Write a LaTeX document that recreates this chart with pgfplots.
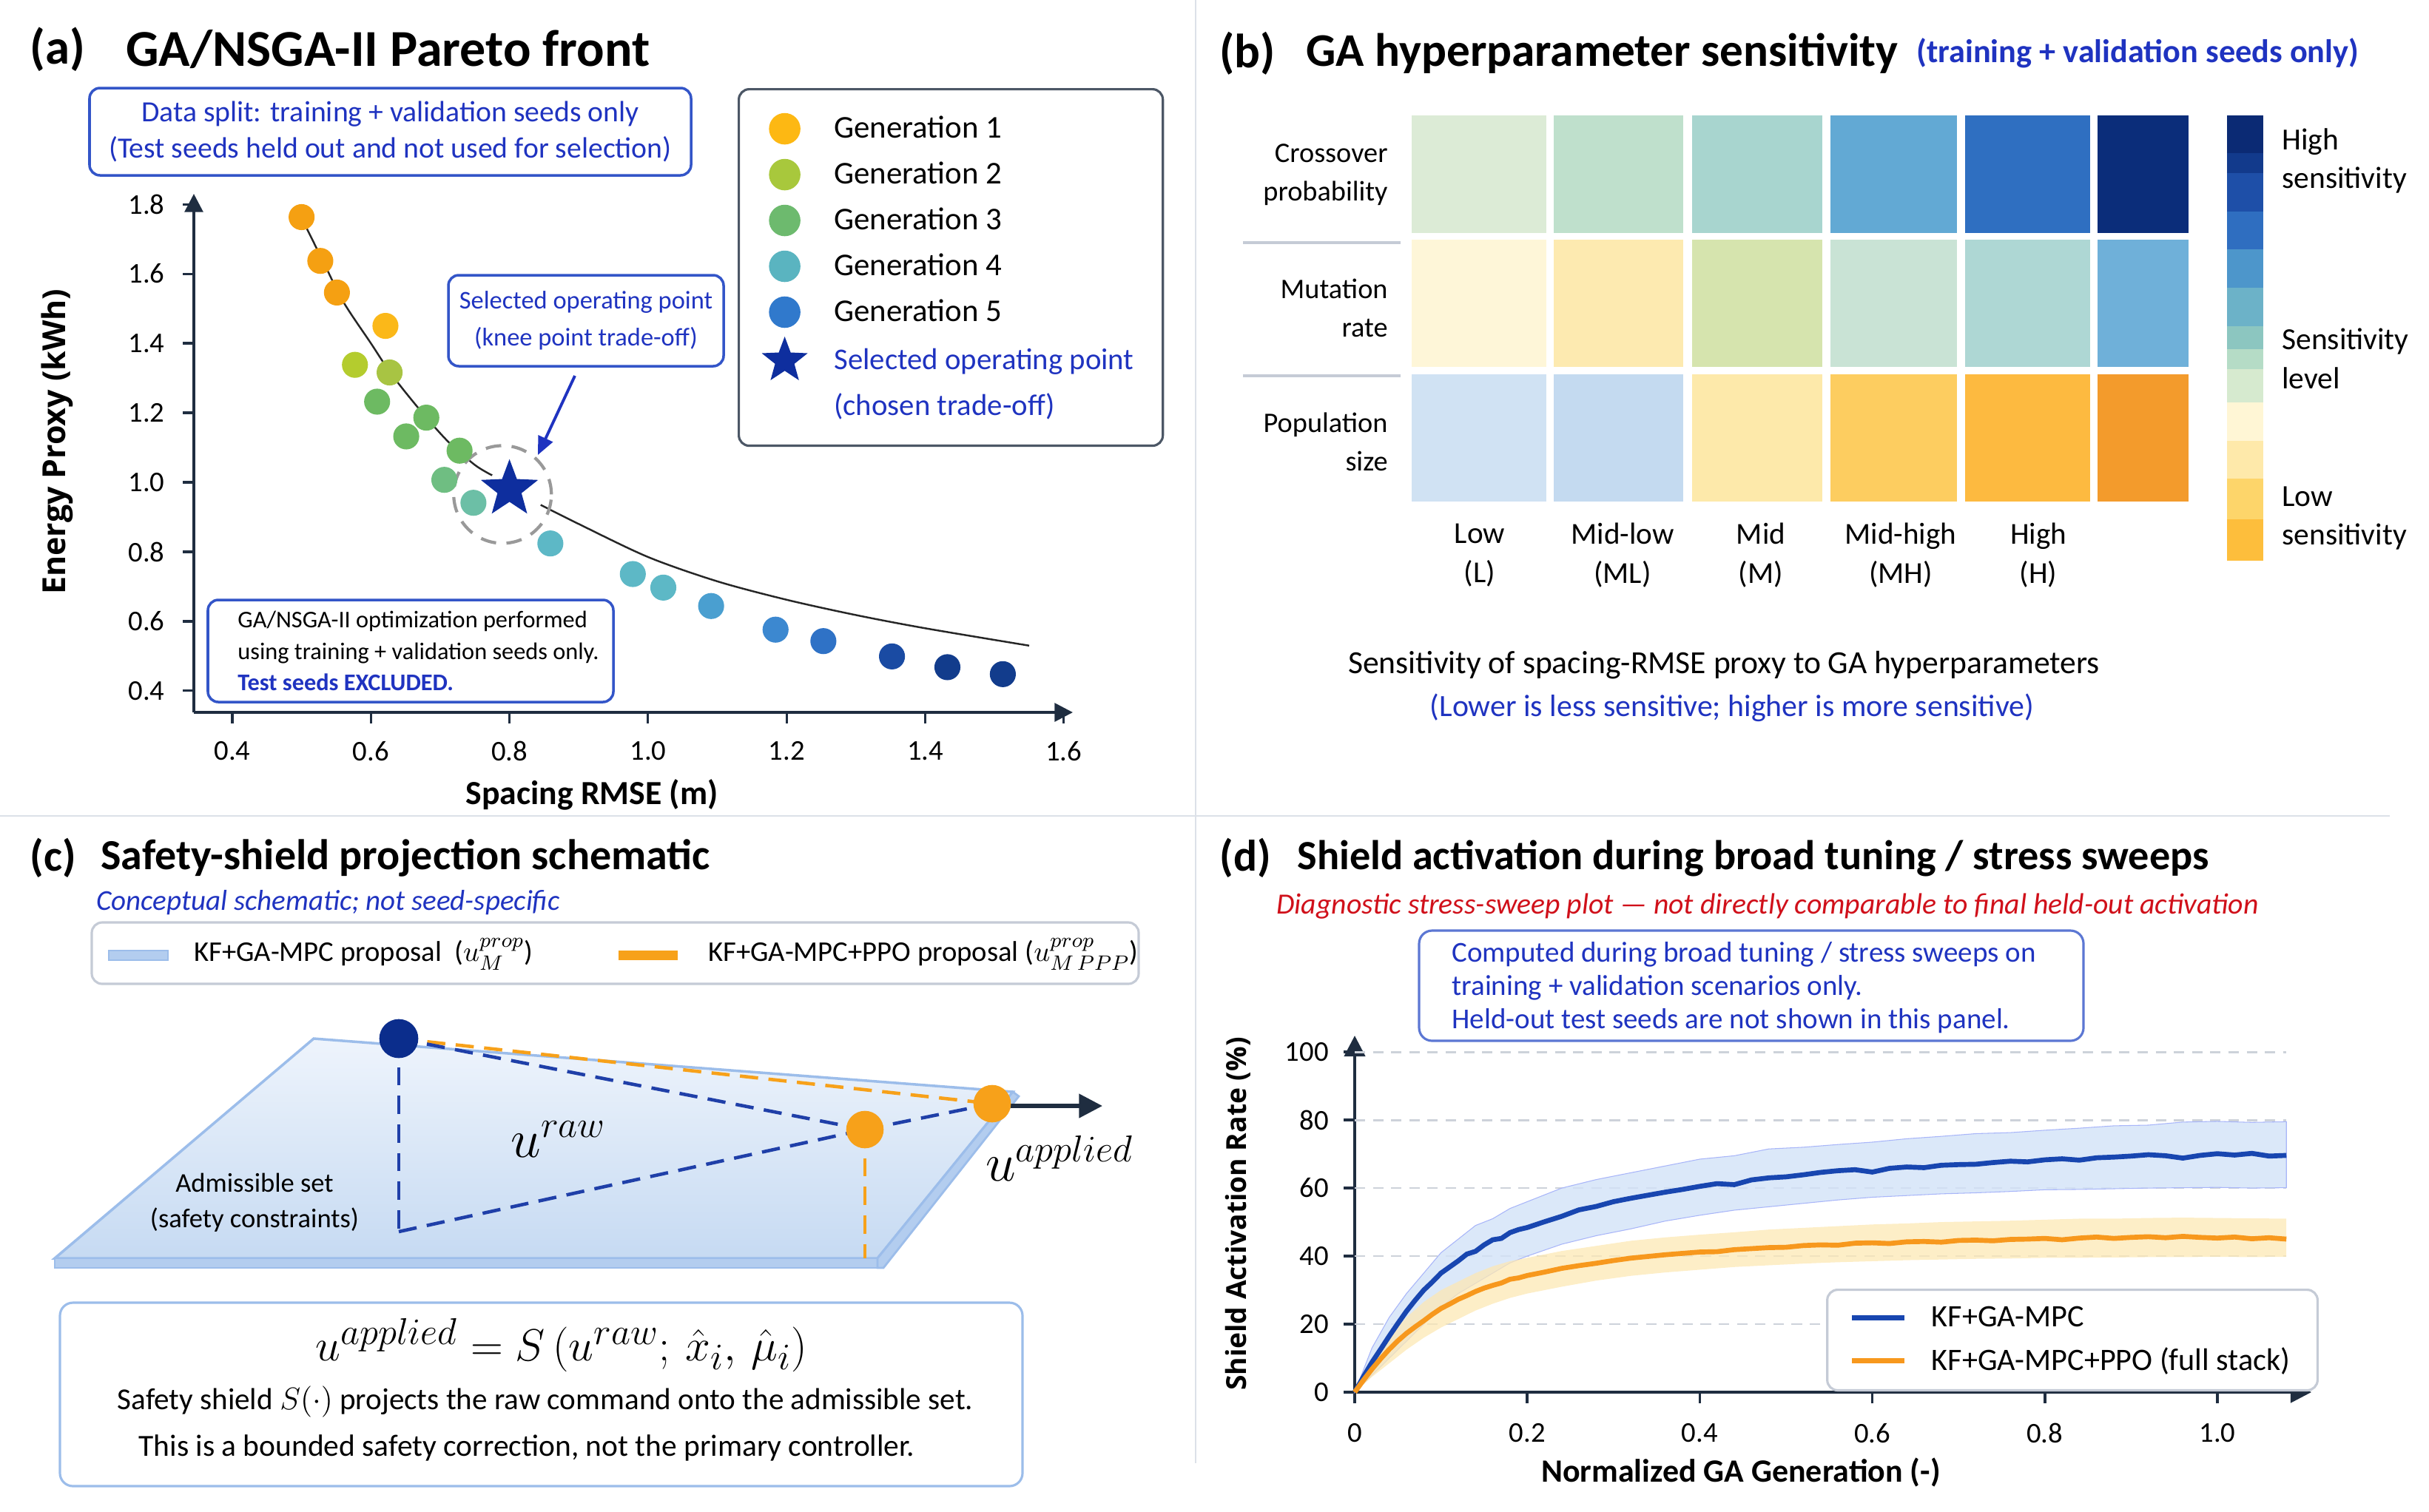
\documentclass[border=0pt]{standalone}
\usepackage{fontspec}
\setmainfont{Carlito}
\newfontfamily\os{Open Sans}
\usepackage{pgfplots}
\pgfplotsset{compat=1.18}
\usetikzlibrary{arrows.meta}
\newcommand{\fs}[2]{\fontsize{#1}{#2}\selectfont}
\definecolor{axdark}{HTML}{1F2D40}
\definecolor{tblue}{HTML}{1F33C0}
\definecolor{boxblue}{HTML}{3355C8}
\definecolor{divgray}{HTML}{DCE1E8}
\definecolor{lgray}{HTML}{C5CBD6}
\definecolor{tred}{HTML}{D0101A}
% panel a points
\definecolor{o1}{HTML}{F5A012}\definecolor{o2}{HTML}{FBB819}
\definecolor{y1}{HTML}{B4CC2E}\definecolor{y2}{HTML}{A8C443}
\definecolor{gr1}{HTML}{6DBA62}\definecolor{gr3}{HTML}{6FBE82}
\definecolor{tl1}{HTML}{6CBFA6}\definecolor{tl2}{HTML}{5DB8C6}\definecolor{tl3}{HTML}{4A9FD0}
\definecolor{bl1}{HTML}{3C88D0}\definecolor{bl2}{HTML}{2F72C6}
\definecolor{nv1}{HTML}{1A4BA3}\definecolor{nv2}{HTML}{123C8C}
\definecolor{lg1}{HTML}{FDB813}\definecolor{lg2}{HTML}{A8C83C}\definecolor{lg3}{HTML}{6DBA6E}
\definecolor{lg4}{HTML}{5AB4C0}\definecolor{lg5}{HTML}{3079CC}
\definecolor{starblue}{HTML}{0E2E9E}
% heatmap
\definecolor{h11}{HTML}{DCEBD6}\definecolor{h12}{HTML}{BFE0CC}\definecolor{h13}{HTML}{A8D5CF}
\definecolor{h14}{HTML}{62A9D4}\definecolor{h15}{HTML}{2F6FC1}\definecolor{h16}{HTML}{0B2D7A}
\definecolor{h21}{HTML}{FEF6D8}\definecolor{h22}{HTML}{FDEAB0}\definecolor{h23}{HTML}{D6E4AE}
\definecolor{h24}{HTML}{C9E3D5}\definecolor{h25}{HTML}{AED7D4}\definecolor{h26}{HTML}{6FB0D9}
\definecolor{h31}{HTML}{D0E2F3}\definecolor{h32}{HTML}{C4DAF0}\definecolor{h33}{HTML}{FDE9AA}
\definecolor{h34}{HTML}{FDCD60}\definecolor{h35}{HTML}{FDBA40}\definecolor{h36}{HTML}{F39B2C}
% colorbar
\definecolor{cb1}{HTML}{0B2A74}\definecolor{cb2}{HTML}{123A8C}\definecolor{cb3}{HTML}{1E4FA8}
\definecolor{cb4}{HTML}{2F6EC0}\definecolor{cb5}{HTML}{4D96CB}\definecolor{cb6}{HTML}{6CB2C8}
\definecolor{cb7}{HTML}{8CC6C0}\definecolor{cb8}{HTML}{B5DCC6}\definecolor{cb9}{HTML}{D6EACF}
\definecolor{cb10}{HTML}{FFF6D5}\definecolor{cb11}{HTML}{FEE9AA}\definecolor{cb12}{HTML}{FDD56A}
\definecolor{cb13}{HTML}{FDBE3C}
% panel c
\definecolor{planeTop}{HTML}{EEF4FC}\definecolor{planeBot}{HTML}{C6DAF2}
\definecolor{planeEdge}{HTML}{9CBDEA}\definecolor{slab}{HTML}{B3CDEF}
\definecolor{dblue}{HTML}{1F3FA8}\definecolor{dorange}{HTML}{F7A11A}\definecolor{navy}{HTML}{0B2D8C}
% panel d
\definecolor{mblue}{HTML}{1846B0}\definecolor{morange}{HTML}{F7981D}
\definecolor{bandblue}{HTML}{D2E2F7}\definecolor{bandorange}{HTML}{FDE8B4}
\definecolor{gridgray}{HTML}{CDD2DA}

\pgfdeclareplotmark{fstar}{%
 \pgfpathmoveto{\pgfpointpolar{90}{\pgfplotmarksize}}%
 \pgfpathlineto{\pgfpointpolar{126}{0.42\pgfplotmarksize}}%
 \pgfpathlineto{\pgfpointpolar{162}{\pgfplotmarksize}}%
 \pgfpathlineto{\pgfpointpolar{198}{0.42\pgfplotmarksize}}%
 \pgfpathlineto{\pgfpointpolar{234}{\pgfplotmarksize}}%
 \pgfpathlineto{\pgfpointpolar{270}{0.42\pgfplotmarksize}}%
 \pgfpathlineto{\pgfpointpolar{306}{\pgfplotmarksize}}%
 \pgfpathlineto{\pgfpointpolar{342}{0.42\pgfplotmarksize}}%
 \pgfpathlineto{\pgfpointpolar{18}{\pgfplotmarksize}}%
 \pgfpathlineto{\pgfpointpolar{54}{0.42\pgfplotmarksize}}%
 \pgfpathclose\pgfusepathqfillstroke}

\newcommand{\rect}[5]{\addplot[draw=none, fill=#5, forget plot] coordinates {(#1,-#2) (#3,-#2) (#3,-#4) (#1,-#4)} -- cycle;}

\begin{document}
\begin{tikzpicture}
\useasboundingbox (0,0) rectangle (32.83,-20.43);

%================ canvas axis (heatmap, colorbar, schematic) ================
\begin{axis}[at={(0cm,-20.43cm)}, anchor=south west, scale only axis, width=32.83cm, height=20.43cm,
  xmin=0, xmax=3283, ymin=-2043, ymax=0, hide axis, clip=false]
% dividers
\addplot[draw=divgray, line width=0.8pt, forget plot] coordinates {(1616,0) (1616,-1978)};
\addplot[draw=divgray, line width=0.8pt, forget plot] coordinates {(0,-1103) (3230,-1103)};
% heatmap cells
\rect{1908}{156}{2090}{315}{h11}\rect{2100}{156}{2275}{315}{h12}\rect{2287}{156}{2463}{315}{h13}
\rect{2474}{156}{2645}{315}{h14}\rect{2656}{156}{2825}{315}{h15}\rect{2835}{156}{2958}{315}{h16}
\rect{1908}{324}{2090}{496}{h21}\rect{2100}{324}{2275}{496}{h22}\rect{2287}{324}{2463}{496}{h23}
\rect{2474}{324}{2645}{496}{h24}\rect{2656}{324}{2825}{496}{h25}\rect{2835}{324}{2958}{496}{h26}
\rect{1908}{506}{2090}{678}{h31}\rect{2100}{506}{2275}{678}{h32}\rect{2287}{506}{2463}{678}{h33}
\rect{2474}{506}{2645}{678}{h34}\rect{2656}{506}{2825}{678}{h35}\rect{2835}{506}{2958}{678}{h36}
% row separators
\addplot[draw=lgray, line width=1pt, forget plot] coordinates {(1680,-328) (1893,-328)};
\addplot[draw=lgray, line width=1pt, forget plot] coordinates {(1680,-508) (1893,-508)};
% colorbar
\rect{3010}{156}{3059}{208}{cb1}
\rect{3010}{207}{3059}{235}{cb2}
\rect{3010}{234}{3059}{287}{cb3}
\rect{3010}{286}{3059}{338}{cb4}
\rect{3010}{337}{3059}{390}{cb5}
\rect{3010}{389}{3059}{442}{cb6}
\rect{3010}{441}{3059}{473}{cb7}
\rect{3010}{472}{3059}{500}{cb8}
\rect{3010}{499}{3059}{545}{cb9}
\rect{3010}{544}{3059}{597}{cb10}
\rect{3010}{596}{3059}{648}{cb11}
\rect{3010}{647}{3059}{703}{cb12}
\rect{3010}{702}{3059}{758}{cb13}
% schematic plane
\addplot[draw=planeEdge, line width=1pt, top color=planeTop, bottom color=planeBot, forget plot]
  coordinates {(424,-1404) (1369,-1476) (1186,-1701) (74,-1701)} -- cycle;
\addplot[draw=planeEdge, line width=0.8pt, fill=slab, forget plot]
  coordinates {(74,-1701) (1186,-1701) (1186,-1714) (74,-1714)} -- cycle;
\addplot[draw=planeEdge, line width=0.8pt, fill=slab, forget plot]
  coordinates {(1186,-1701) (1369,-1476) (1377,-1482) (1194,-1714) (1186,-1714)} -- cycle;
% dashed projections
\addplot[dorange, line width=1.3pt, dash pattern=on 7pt off 4pt, forget plot] coordinates {(539,-1404) (1341,-1492)};
\addplot[dorange, line width=1.3pt, dash pattern=on 7pt off 4pt, forget plot] coordinates {(1169,-1527) (1169,-1701)};
\addplot[dblue, line width=1.3pt, dash pattern=on 7pt off 4pt, forget plot] coordinates {(539,-1404) (1169,-1527)};
\addplot[dblue, line width=1.3pt, dash pattern=on 7pt off 4pt, forget plot] coordinates {(539,-1404) (539,-1665)};
\addplot[dblue, line width=1.3pt, dash pattern=on 7pt off 4pt, forget plot] coordinates {(539,-1665) (1169,-1527)};
\addplot[dblue, line width=1.3pt, dash pattern=on 7pt off 4pt, forget plot] coordinates {(1169,-1527) (1341,-1492)};
\addplot[axdark, line width=1.6pt, -{Triangle[width=9pt,length=9pt]}, forget plot] coordinates {(1366,-1495) (1490,-1495)};
\addplot[only marks, mark=*, mark size=7.3pt, color=navy, forget plot] coordinates {(539,-1404)};
\addplot[only marks, mark=*, mark size=7pt, color=dorange, forget plot] coordinates {(1169,-1527) (1341,-1492)};
\end{axis}

%================ panel (a) ================
\begin{axis}[at={(2.62cm,-9.63cm)}, anchor=south west, scale only axis, width=11.88cm, height=7.01cm,
  xmin=0.3445, xmax=1.613, ymin=0.338, ymax=1.83,
  axis lines=left,
  x axis line style={draw=axdark, line width=1.1pt, -{Triangle[width=7pt,length=7pt]}},
  y axis line style={draw=axdark, line width=1.1pt, -{Triangle[width=7pt,length=7pt]}},
  tick style={draw=axdark, line width=0.9pt}, major tick length=1.5mm, tick align=outside,
  xtick={0.4,0.6,0.8,1.0,1.2,1.4,1.6}, ytick={0.4,0.6,0.8,1.0,1.2,1.4,1.6,1.8},
  xticklabels={0.4,0.6,0.8,1.0,1.2,1.4,1.6}, yticklabels={0.4,0.6,0.8,1.0,1.2,1.4,1.6,1.8},
  ticklabel style={font=\fs{11}{13}, text=black},
  xticklabel style={yshift=-1.2mm}, yticklabel style={xshift=-1.2mm},
  clip=false,
  legend style={at={(0.6187,1.204)}, anchor=north west, draw=axdark!80, line width=0.9pt,
    rounded corners=4pt, fill=white, inner xsep=3.2mm, inner ysep=2.9mm, row sep=1.3mm,
    font=\fs{12.2}{14}, /tikz/every odd column/.append style={column sep=3.3mm}},
  legend cell align=left]
\addplot[smooth, color=black!85, line width=0.7pt, forget plot] coordinates {
 (0.50,1.76) (0.53,1.64) (0.56,1.52) (0.60,1.40) (0.63,1.31) (0.67,1.21) (0.71,1.12) (0.75,1.05) (0.775,1.02)};
\addplot[smooth, color=black!85, line width=0.7pt, forget plot] coordinates {
 (0.845,0.935) (0.90,0.88) (1.00,0.785) (1.10,0.715) (1.20,0.662) (1.30,0.618) (1.40,0.580) (1.55,0.530)};
\addplot[only marks, mark=*, mark size=4.8pt, color=o1, forget plot] coordinates {(0.500,1.763) (0.527,1.637) (0.551,1.546)};
\addplot[only marks, mark=*, mark size=4.8pt, color=o2, forget plot] coordinates {(0.621,1.450)};
\addplot[only marks, mark=*, mark size=4.8pt, color=y1, forget plot] coordinates {(0.577,1.338)};
\addplot[only marks, mark=*, mark size=4.8pt, color=y2, forget plot] coordinates {(0.627,1.316)};
\addplot[only marks, mark=*, mark size=4.8pt, color=gr1, forget plot] coordinates {(0.609,1.232) (0.680,1.186) (0.651,1.132) (0.728,1.091)};
\addplot[only marks, mark=*, mark size=4.8pt, color=gr3, forget plot] coordinates {(0.706,1.007)};
\addplot[only marks, mark=*, mark size=4.8pt, color=tl1, forget plot] coordinates {(0.748,0.941)};
\addplot[only marks, mark=*, mark size=4.8pt, color=tl2, forget plot] coordinates {(0.859,0.824) (0.978,0.736) (1.022,0.697)};
\addplot[only marks, mark=*, mark size=4.8pt, color=tl3, forget plot] coordinates {(1.091,0.644)};
\addplot[only marks, mark=*, mark size=4.8pt, color=bl1, forget plot] coordinates {(1.184,0.576)};
\addplot[only marks, mark=*, mark size=4.8pt, color=bl2, forget plot] coordinates {(1.253,0.543)};
\addplot[only marks, mark=*, mark size=4.8pt, color=nv1, forget plot] coordinates {(1.352,0.499)};
\addplot[only marks, mark=*, mark size=4.8pt, color=nv2, forget plot] coordinates {(1.432,0.468) (1.512,0.448)};
\addplot[only marks, mark=fstar, mark size=11pt, color=starblue, forget plot] coordinates {(0.800,0.980)};
\draw[color=black!40, line width=1.2pt, dash pattern=on 6pt off 4pt] (axis cs:0.79,0.965) circle[radius=6.6mm];
\addlegendimage{only marks, mark=*, mark size=5.6pt, color=lg1}\addlegendentry{Generation 1}
\addlegendimage{only marks, mark=*, mark size=5.6pt, color=lg2}\addlegendentry{Generation 2}
\addlegendimage{only marks, mark=*, mark size=5.6pt, color=lg3}\addlegendentry{Generation 3}
\addlegendimage{only marks, mark=*, mark size=5.6pt, color=lg4}\addlegendentry{Generation 4}
\addlegendimage{only marks, mark=*, mark size=5.6pt, color=lg5}\addlegendentry{Generation 5}
\addlegendimage{only marks, mark=fstar, mark size=8pt, color=starblue}\addlegendentry{\fs{11.6}{14}\textcolor{tblue}{Selected operating point}}
\addlegendimage{empty legend}\addlegendentry{\fs{11.6}{14}\textcolor{tblue}{(chosen trade-off)}}
\end{axis}

%================ panel (d) ================
\begin{axis}[at={(18.31cm,-18.82cm)}, anchor=south west, scale only axis, width=12.93cm, height=4.82cm,
  xmin=0, xmax=1.109, ymin=0, ymax=104.8,
  axis lines=left,
  x axis line style={draw=axdark, line width=1.2pt, -{Triangle[width=8pt,length=8pt]}},
  y axis line style={draw=axdark, line width=1.2pt, -{Triangle[width=8pt,length=8pt]}},
  tick style={draw=axdark, line width=1pt}, major tick length=1.5mm, tick align=outside,
  xtick={0,0.2,0.4,0.6,0.8,1.0}, xticklabels={0,0.2,0.4,0.6,0.8,1.0},
  ytick={0,20,40,60,80,100}, yticklabels={0,20,40,60,80,100},
  ticklabel style={font=\fs{11}{13}, text=black},
  xticklabel style={yshift=-1.5mm}, yticklabel style={xshift=-0.8mm},
  clip=false,
  legend style={at={(0.4927,0.2905)}, anchor=north west, draw=lgray, line width=0.9pt,
    rounded corners=4pt, fill=white, inner xsep=3mm, inner ysep=1.5mm, row sep=0.9mm,
    font=\fs{12}{14}, /tikz/every odd column/.append style={column sep=2.6mm}},
  legend cell align=left,
  legend image code/.code={\draw[#1, line width=2pt] (0cm,0cm) -- (0.71cm,0cm);}]
\addplot[gridgray, line width=0.8pt, dash pattern=on 4pt off 3pt, forget plot] coordinates {(0,20) (1.08,20)};
\addplot[gridgray, line width=0.8pt, dash pattern=on 4pt off 3pt, forget plot] coordinates {(0,40) (1.08,40)};
\addplot[gridgray, line width=0.8pt, dash pattern=on 4pt off 3pt, forget plot] coordinates {(0,60) (1.08,60)};
\addplot[gridgray, line width=0.8pt, dash pattern=on 4pt off 3pt, forget plot] coordinates {(0,80) (1.08,80)};
\addplot[gridgray, line width=0.8pt, dash pattern=on 4pt off 3pt, forget plot] coordinates {(0,100) (1.08,100)};
% blue band (upper edge, then lower edge reversed)
\addplot[draw=bandblue!80!blue, line width=0.3pt, fill=bandblue, fill opacity=0.8, forget plot] coordinates {
(0,0) (0.02,13) (0.04,22) (0.06,29) (0.08,35) (0.10,41) (0.12,45) (0.14,49) (0.16,51) (0.18,54) (0.20,56)
(0.24,60) (0.28,62.5) (0.32,64.5) (0.36,66.5) (0.40,68.5) (0.44,69.5) (0.48,71.5) (0.52,72) (0.56,72.8)
(0.60,73.5) (0.64,74.5) (0.68,75.2) (0.72,76) (0.76,76.3) (0.80,77) (0.84,77.6) (0.88,78.3) (0.92,78.5)
(0.96,79.4) (1.00,79.6) (1.04,79.3) (1.08,79.5)
(1.08,60.1) (1.04,60) (1.00,60.2) (0.96,60.1) (0.92,60) (0.88,59.8) (0.84,59.6) (0.80,59.5) (0.76,59)
(0.72,58.6) (0.68,58.3) (0.64,57.8) (0.60,57.3) (0.56,56.5) (0.52,55.5) (0.48,54.5) (0.44,53.5) (0.40,52)
(0.36,50.3) (0.32,48) (0.28,46) (0.24,43.5) (0.20,40) (0.18,38) (0.16,35) (0.14,32) (0.12,29) (0.10,25)
(0.08,20) (0.06,15) (0.04,10) (0.02,5)} -- cycle;
% orange band
\addplot[draw=none, fill=bandorange, fill opacity=0.75, forget plot] coordinates {
(0,0) (0.02,9) (0.04,16.5) (0.06,22) (0.08,26.5) (0.10,30) (0.12,32.5) (0.14,35) (0.16,37) (0.18,38.5)
(0.20,39.5) (0.24,41.5) (0.28,43) (0.32,44.5) (0.36,45.5) (0.40,46.3) (0.44,47) (0.48,47.8) (0.52,48.3)
(0.56,48.8) (0.60,49.3) (0.64,49.6) (0.68,50) (0.72,50.2) (0.76,50.4) (0.80,50.7) (0.84,51) (0.88,51)
(0.92,51.2) (0.96,51.3) (1.00,51.2) (1.04,51.1) (1.08,51)
(1.08,39.8) (1.04,39.7) (1.00,39.8) (0.96,39.7) (0.92,39.7) (0.88,39.6) (0.84,39.5) (0.80,39.5) (0.76,39.3)
(0.72,39.2) (0.68,39) (0.64,38.8) (0.60,38.5) (0.56,38.2) (0.52,37.8) (0.48,37.3) (0.44,36.8) (0.40,36)
(0.36,35.2) (0.32,34.2) (0.28,32.8) (0.24,31) (0.20,29) (0.18,27.7) (0.16,26) (0.14,24) (0.12,21.5)
(0.10,19) (0.08,16) (0.06,12.5) (0.04,8.5) (0.02,4.5)} -- cycle;
% mean curves
\addplot[mblue, line width=1.9pt] coordinates {
(0,0) (0.01,4.5) (0.02,8.8) (0.03,12.6) (0.04,16.5) (0.05,20.2) (0.06,23.8) (0.07,27.0) (0.08,30.0)
(0.09,32.4) (0.10,35.0) (0.11,36.8) (0.12,38.6) (0.13,40.6) (0.14,41.4) (0.15,43.3) (0.16,44.8) (0.17,45.2)
(0.18,46.9) (0.19,47.8) (0.20,48.4) (0.22,50.1) (0.24,51.7) (0.26,53.6) (0.28,54.6) (0.30,56.0) (0.32,57.0)
(0.34,57.9) (0.36,58.8) (0.38,59.6) (0.40,60.5) (0.42,61.3) (0.44,61.0) (0.46,62.4) (0.48,63.0) (0.50,63.3)
(0.52,63.9) (0.54,64.6) (0.56,65.1) (0.58,65.4) (0.60,64.7) (0.62,65.8) (0.64,66.2) (0.66,66.0) (0.68,66.7)
(0.70,66.9) (0.72,67.0) (0.74,67.5) (0.76,67.9) (0.78,67.7) (0.80,68.3) (0.82,68.6) (0.84,68.2) (0.86,68.9)
(0.88,69.1) (0.90,69.4) (0.92,69.8) (0.94,69.5) (0.96,68.8) (0.98,69.6) (1.00,70.1) (1.02,69.7) (1.04,70.2)
(1.06,69.4) (1.08,69.6)};
\addlegendentry{KF+GA-MPC}
\addplot[morange, line width=1.9pt] coordinates {
(0,0) (0.01,3.5) (0.02,6.8) (0.03,9.8) (0.04,12.6) (0.05,15.1) (0.06,17.3) (0.07,19.2) (0.08,21.0)
(0.09,22.9) (0.10,24.6) (0.11,25.9) (0.12,27.3) (0.13,28.4) (0.14,29.6) (0.15,30.6) (0.16,31.4) (0.17,32.1)
(0.18,33.2) (0.19,33.6) (0.20,34.3) (0.22,35.3) (0.24,36.4) (0.26,37.2) (0.28,37.9) (0.30,38.7) (0.32,39.4)
(0.34,39.9) (0.36,40.4) (0.38,40.8) (0.40,41.2) (0.42,41.3) (0.44,41.9) (0.46,42.2) (0.48,42.5) (0.50,42.6)
(0.52,43.1) (0.54,43.3) (0.56,43.2) (0.58,43.8) (0.60,43.9) (0.62,43.7) (0.64,44.2) (0.66,44.3) (0.68,44.1)
(0.70,44.6) (0.72,44.7) (0.74,44.5) (0.76,44.9) (0.78,45.0) (0.80,45.2) (0.82,44.8) (0.84,45.3) (0.86,45.6)
(0.88,45.2) (0.90,45.5) (0.92,45.7) (0.94,45.4) (0.96,45.8) (0.98,45.5) (1.00,45.3) (1.02,45.6) (1.04,45.1)
(1.06,45.4) (1.08,45.0)};
\addlegendentry{KF+GA-MPC+PPO (full stack)}
\end{axis}

%================ text: panel (a) ================
\node[anchor=west, font=\bfseries\fs{19}{22}] at (0.28,-0.67) {(a)};
\node[anchor=west, font=\bfseries\fs{19.9}{23}] at (1.58,-0.67) {GA/NSGA-II Pareto front};
\node[draw=boxblue, line width=1pt, rounded corners=4pt, minimum width=8.13cm, minimum height=1.18cm,
  align=center, text=tblue, font=\fs{11.3}{14.2}] at (5.275,-1.78)
  {Data split: training + validation seeds only\\(Test seeds held out and not used for selection)};
\node[draw=boxblue, line width=1pt, rounded corners=4pt, fill=white, minimum width=3.72cm, minimum height=1.23cm,
  align=center, text=tblue, font=\fs{9.8}{14.2}] at (7.92,-4.335)
  {Selected operating point\\(knee point trade-off)};
\draw[tblue, line width=1.1pt, -{Triangle[width=6pt,length=7pt]}] (7.77,-5.08) -- (7.27,-6.15);
\node[draw=boxblue, line width=1pt, rounded corners=4pt, fill=white, minimum width=5.48cm, minimum height=1.38cm,
  inner sep=0pt] (llbox) at (5.55,-8.80) {};
\node[anchor=west, align=left, font=\fs{9.2}{12}] at (3.09,-8.80)
  {GA/NSGA-II optimization performed\\using training + validation seeds only.\\\textcolor{tblue}{\bfseries Test seeds EXCLUDED.}};
\node[rotate=90, font=\os\bfseries\fs{12.2}{14}] at (0.77,-5.97) {Energy Proxy (kWh)};
\node[font=\bfseries\fs{13}{15}] at (8.00,-10.74) {Spacing RMSE (m)};

%================ text: panel (b) ================
\node[anchor=west, font=\bfseries\fs{18.5}{21}] at (16.36,-0.72) {(b)};
\node[anchor=west, font=\bfseries\fs{18}{21}] at (17.53,-0.72) {GA hyperparameter sensitivity};
\node[anchor=west, font=\bfseries\fs{12.6}{15}, text=tblue] at (25.78,-0.72) {(training + validation seeds only)};
\node[anchor=east, align=right, font=\fs{10.9}{14.8}] at (18.88,-2.36) {Crossover\\probability};
\node[anchor=east, align=right, font=\fs{10.9}{14.8}] at (18.88,-4.16) {Mutation\\rate};
\node[anchor=east, align=right, font=\fs{10.9}{14.8}] at (18.88,-5.975) {Population\\size};
\node[align=center, font=\fs{11.7}{15}] at (20.00,-7.505) {Low\\(L)};
\node[align=center, font=\fs{11.7}{15}] at (21.93,-7.505) {Mid-low\\(ML)};
\node[align=center, font=\fs{11.7}{15}] at (23.80,-7.505) {Mid\\(M)};
\node[align=center, font=\fs{11.7}{15}] at (25.69,-7.505) {Mid-high\\(MH)};
\node[align=center, font=\fs{11.7}{15}] at (27.55,-7.505) {High\\(H)};
\node[anchor=west, align=left, font=\fs{11.8}{15}] at (30.72,-2.175) {High\\sensitivity};
\node[anchor=west, align=left, font=\fs{11.8}{15}] at (30.72,-4.845) {Sensitivity\\level};
\node[anchor=west, align=left, font=\fs{11.8}{15}] at (30.72,-7.005) {Low\\sensitivity};
\node[font=\fs{12.4}{15}] at (23.30,-8.99) {Sensitivity of spacing-RMSE proxy to GA hyperparameters};
\node[font=\fs{11.9}{15}, text=tblue] at (23.41,-9.57) {(Lower is less sensitive; higher is more sensitive)};

%================ text: panel (c) ================
\node[anchor=west, font=\bfseries\fs{17}{21}] at (0.28,-11.60) {(c)};
\node[anchor=west, font=\bfseries\fs{16.5}{21}] at (1.24,-11.60) {Safety-shield projection schematic};
\node[anchor=west, font=\itshape\fs{11.1}{14}, text=tblue] at (1.18,-12.20) {Conceptual schematic; not seed-specific};
\node[draw=lgray, line width=0.9pt, rounded corners=4pt, minimum width=14.15cm, minimum height=0.83cm] at (8.315,-12.885) {};
\fill[fill=slab, draw=planeEdge] (1.47,-12.85) rectangle (2.27,-12.98);
\fill[fill=dorange] (8.36,-12.85) rectangle (9.16,-12.98);
\node[anchor=west, font=\fs{11}{13}] at (2.50,-12.90) {KF+GA-MPC proposal\ \ ($u_M^{prop}$)};
\node[anchor=west, font=\fs{11}{13}] at (9.45,-12.90) {KF+GA-MPC+PPO proposal ($u_{M\,PPP}^{prop}$)};
\node[font=\fs{21}{24}] at (7.55,-15.40) {$u^{raw}$};
\node[font=\fs{21}{24}] at (14.32,-15.66) {$u^{applied}$};
\node[align=center, font=\fs{10.4}{13.7}] at (3.44,-16.26) {Admissible set\\(safety constraints)};
\node[draw=planeEdge, line width=0.9pt, rounded corners=5pt, minimum width=13.01cm, minimum height=2.48cm] at (7.315,-18.85) {};
\node[font=\fs{19}{22}] at (7.59,-18.18) {$u^{applied} = S\left(u^{raw};\,\hat{x}_i,\,\hat{\mu}_i\right)$};
\node[font=\fs{11.7}{15}] at (7.37,-18.95) {Safety shield $S(\cdot)$ projects the raw command onto the admissible set.};
\node[font=\fs{11.8}{15}] at (7.12,-19.57) {This is a bounded safety correction, not the primary controller.};

%================ text: panel (d) ================
\node[anchor=west, font=\bfseries\fs{17}{21}] at (16.36,-11.60) {(d)};
\node[anchor=west, font=\bfseries\fs{16}{21}] at (17.41,-11.60) {Shield activation during broad tuning / stress sweeps};
\node[font=\itshape\fs{11.3}{15}, text=tred] at (23.89,-12.25) {Diagnostic stress-sweep plot — not directly comparable to final held-out activation};
\node[draw=boxblue!80, line width=0.9pt, rounded corners=5pt, minimum width=8.98cm, minimum height=1.49cm] at (23.67,-13.325) {};
\node[anchor=west, align=left, font=\fs{11.1}{12.8}, text=tblue] at (19.50,-13.35)
  {Computed during broad tuning / stress sweeps on\\training + validation scenarios only.\\Held-out test seeds are not shown in this panel.};
\node[rotate=90, font=\os\bfseries\fs{10.6}{12}] at (16.73,-16.41) {Shield Activation Rate (\%)};
\node[font=\bfseries\fs{12.5}{15}] at (23.53,-19.90) {Normalized GA Generation (-)};
\end{tikzpicture}
\end{document}
